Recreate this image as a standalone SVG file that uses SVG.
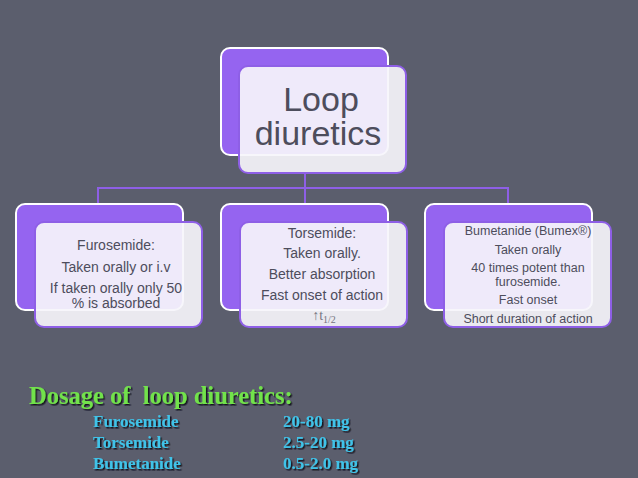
<svg xmlns="http://www.w3.org/2000/svg" width="638" height="478" viewBox="0 0 638 478">
<defs>
<style>
.back{fill:#9564f0;stroke:#ffffff;stroke-width:2}
.front{fill:#f6f5fb;fill-opacity:0.92;stroke:#8e5fe6;stroke-width:2}
.conn{stroke:#8e5fe6;stroke-width:2;fill:none}
.t{font-family:"Liberation Sans",Arial,sans-serif;fill:#4d4d5c;text-anchor:middle}
.h{font-family:"Liberation Serif","Times New Roman",serif;font-weight:bold}
</style>
<filter id="sh" x="-5%" y="-20%" width="110%" height="150%">
<feDropShadow dx="1.5" dy="1.5" stdDeviation="0.6" flood-color="#101018" flood-opacity="0.9"/>
</filter>
</defs>
<rect width="638" height="478" fill="#5b5e6d"/>
<g id="connectors">
<path class="conn" d="M305 173V188M98 204V188H508V204M305 188V204"/>
</g>
<g id="root">
<rect class="back" x="221" y="48" width="167" height="107" rx="9"/>
<rect class="front" x="239" y="66" width="167" height="107" rx="9"/>
<text class="t" x="321" y="111" font-size="34">Loop</text>
<text class="t" x="318" y="145" font-size="34">diuretics</text>
</g>
<g id="furosemide">
<rect class="back" x="16" y="204" width="167" height="106" rx="9"/>
<rect class="front" x="35" y="222" width="167" height="105" rx="9"/>
<text class="t" x="116" y="250" font-size="14">Furosemide:</text>
<text class="t" x="116" y="272" font-size="14">Taken orally or i.v</text>
<text class="t" x="116" y="293" font-size="14">If taken orally only 50</text>
<text class="t" x="116" y="308" font-size="14">% is absorbed</text>
</g>
<g id="torsemide">
<rect class="back" x="221" y="204" width="167" height="106" rx="9"/>
<rect class="front" x="240" y="222" width="167" height="105" rx="9"/>
<text class="t" x="322" y="238" font-size="14">Torsemide:</text>
<text class="t" x="322" y="258" font-size="14">Taken orally.</text>
<text class="t" x="322" y="279" font-size="14">Better absorption</text>
<text class="t" x="322" y="300" font-size="14">Fast onset of action</text>
<text x="324" y="320" font-family="'Liberation Serif','Times New Roman',serif" font-size="14" fill="#74747f" text-anchor="middle">↑t<tspan font-size="10" dy="3">1/2</tspan></text>
</g>
<g id="bumetanide">
<rect class="back" x="425" y="204" width="167" height="106" rx="9"/>
<rect class="front" x="444" y="222" width="167" height="105" rx="9"/>
<text class="t" x="528" y="235" font-size="12.5">Bumetanide (Bumex®)</text>
<text class="t" x="528" y="254" font-size="12.5">Taken orally</text>
<text class="t" x="528" y="272" font-size="12.5">40 times potent than</text>
<text class="t" x="528" y="286" font-size="12.5">furosemide.</text>
<text class="t" x="528" y="304" font-size="12.5">Fast onset</text>
<text class="t" x="528" y="323" font-size="12.5">Short duration of action</text>
</g>
<g id="dosage" filter="url(#sh)">
<text class="h" x="29" y="404" font-size="24.5" fill="#72e24c" xml:space="preserve">Dosage of  loop diuretics:</text>
<g class="h" font-size="17" fill="#3fc3e9">
<text x="93" y="427">Furosemide</text>
<text x="93" y="448">Torsemide</text>
<text x="93" y="469">Bumetanide</text>
<text x="283" y="427">20-80 mg</text>
<text x="283" y="448">2.5-20 mg</text>
<text x="283" y="469">0.5-2.0 mg</text>
</g>
</g>
</svg>
